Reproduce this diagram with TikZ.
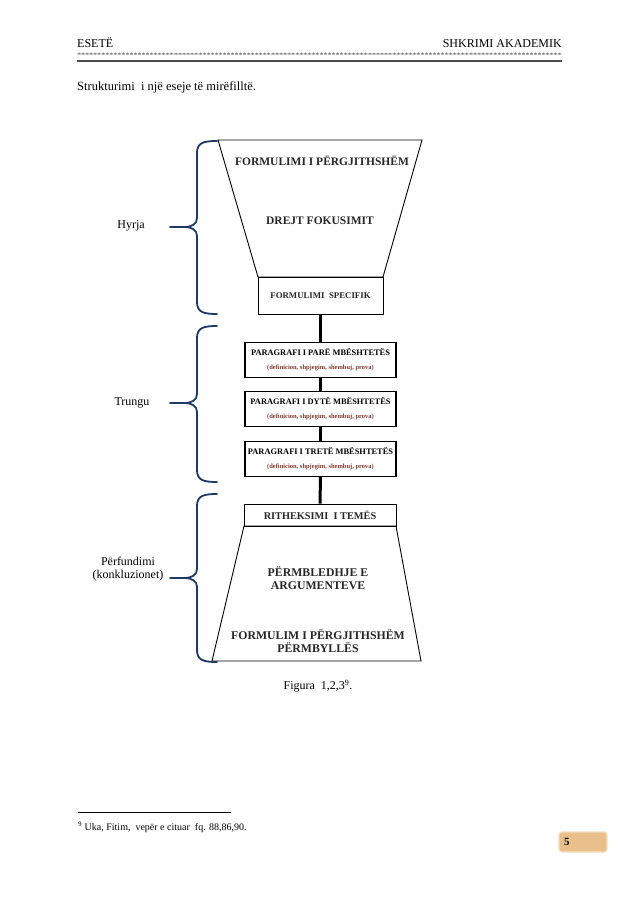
\documentclass[tikz,border=0pt]{standalone}
\usepackage{fontspec}
\usepackage{graphicx}
\setmainfont{Liberation Serif}
\definecolor{navy}{RGB}{31,56,100}
\definecolor{subred}{RGB}{130,55,45}
\definecolor{tan}{RGB}{233,192,140}
\definecolor{tanedge}{RGB}{245,222,190}
\newcommand\tenstars{**********}
\newcommand\fs[1]{\fontsize{#1}{#1}\selectfont}
\tikzset{
  funnel/.style={draw=black, line width=0.9pt},
  boxtxt/.style={font=\fs{11.5}\bfseries, text=black!85, inner sep=0pt},
  parbox/.style={draw=black, line width=1.3pt, minimum width=151pt, minimum height=35pt, align=center, inner sep=0pt},
  conn/.style={line width=3pt, black},
  brace/.style={draw=navy, line width=1.8pt, line cap=round},
  lbl/.style={font=\fs{12}, align=center, inner sep=2pt},
}
\begin{document}
\begin{tikzpicture}[x=1pt,y=-1pt]
\useasboundingbox (0,0) rectangle (638,904);
% header
\node[anchor=base west, font=\fs{12}, inner sep=0pt] (hl) at (77,48) {ESETË};
\node[anchor=base east, font=\fs{12}, inner sep=0pt] (hr) at (562,48) {SHKRIMI AKADEMIK};
\node[inner sep=0pt, anchor=center, text=black!75] (stars) at (319.5,55.5) {\resizebox{485pt}{4.5pt}{\tenstars\tenstars\tenstars\tenstars\tenstars\tenstars\tenstars\tenstars\tenstars\tenstars\tenstars\tenstars}};
\draw[line width=2pt, black!70] (77,61) -- (562,61);
\node[anchor=base west, font=\fs{12.5}, inner sep=0pt] (title) at (77,91) {Strukturimi\ \ i një eseje të mirëfilltë.};

% top funnel
\coordinate (t1) at (218,140);
\coordinate (t2) at (422,140);
\coordinate (t3) at (383,277);
\coordinate (t4) at (258,277);
\draw[funnel] (t1) -- (t2) -- (t3) -- (t4) -- cycle;
\node[boxtxt] (fp) at (322,161) {FORMULIMI I PËRGJITHSHËM};
\node[boxtxt] (df) at (320,221) {DREJT FOKUSIMIT};
\node[draw=black, line width=0.9pt, minimum width=125pt, minimum height=37pt, inner sep=0pt,
      font=\fs{8.8}\bfseries, text=black!85] (spec) at (320.5,295.5) {FORMULIMI\ \ SPECIFIK};

% paragraphs
\node[parbox] (p1) at (320.5,360) {{\fs{8.4}\bfseries PARAGRAFI I PARË MBËSHTETËS}\\[2pt]{\fs{6.5}\bfseries\color{subred}(definicion, shpjegim, shembuj, prova)}};
\node[parbox] (p2) at (320.5,409) {{\fs{8.4}\bfseries PARAGRAFI I DYTË MBËSHTETËS}\\[2pt]{\fs{6.5}\bfseries\color{subred}(definicion, shpjegim, shembuj, prova)}};
\node[parbox] (p3) at (320.5,459) {{\fs{8.4}\bfseries PARAGRAFI I TRETË MBËSHTETËS}\\[2pt]{\fs{6.5}\bfseries\color{subred}(definicion, shpjegim, shembuj, prova)}};

% bottom funnel
\node[draw=black, line width=0.9pt, minimum width=152pt, minimum height=22pt, inner sep=0pt,
      font=\fs{10.3}\bfseries, text=black!85] (rit) at (320,515) {RITHEKSIMI\ \ I TEMËS};
\coordinate (b1) at (244,526);
\coordinate (b2) at (396,526);
\coordinate (b3) at (421,661);
\coordinate (b4) at (212,661);
\draw[funnel] (b1) -- (b2) -- (b3) -- (b4) -- cycle;
\node[boxtxt, font=\fs{11.8}\bfseries, align=center] (pa) at (318,578) {PËRMBLEDHJE E\\[1pt]ARGUMENTEVE};
\node[boxtxt, font=\fs{11.8}\bfseries, align=center] (fpp) at (318,641) {FORMULIM I PËRGJITHSHËM\\[1pt]PËRMBYLLËS};

% connectors
\draw[conn] (spec.south) -- (p1.north);
\draw[conn] (p1.south) -- (p2.north);
\draw[conn] (p2.south) -- (p3.north);
\draw[conn] (p3.south) -- (rit.north);

% braces
\newcommand\bracepath[3]{% top, mid, bottom
  \draw[brace] (217,#1) .. controls (203,#1) and (197,#1+2) .. (197,#1+12) -- (197,#2-9)
     .. controls (197,#2-3) and (192,#2) .. (184,#2) -- (170,#2);
  \draw[brace] (184,#2) .. controls (192,#2) and (197,#2+3) .. (197,#2+9) -- (197,#3-12)
     .. controls (197,#3-2) and (203,#3) .. (217,#3);}
\bracepath{141}{227}{314}
\bracepath{326}{403}{482}
\bracepath{494}{578}{662}

\node[lbl] (hy) at (131,226) {Hyrja};
\node[lbl] (tr) at (132,403) {Trungu};
\node[lbl, font=\fs{12}, inner sep=0pt] (pf) at (128,569) {Përfundimi\\[1pt](konkluzionet)};

% caption
\node[font=\fs{12}, inner sep=0pt] (cap) at (318,686) {Figura\ \ 1,2,3\textsuperscript{9}.};

% footnote
\draw[line width=0.8pt] (78,812) -- (231,812);
\node[anchor=base west, font=\fs{10}, inner sep=0pt] (fn) at (78,830) {\textsuperscript{9} Uka, Fitim,\ \ vepër e cituar\ \ fq. 88,86,90.};

% page number
\node[draw=tanedge, line width=1.2pt, fill=tan, rounded corners=3pt, minimum width=48pt, minimum height=20pt,
      inner sep=0pt] (pg) at (583,842) {};
\node[font=\fs{11}\bfseries, anchor=west, inner sep=0pt] (pgn) at (564,842) {5};
\end{tikzpicture}
\end{document}
